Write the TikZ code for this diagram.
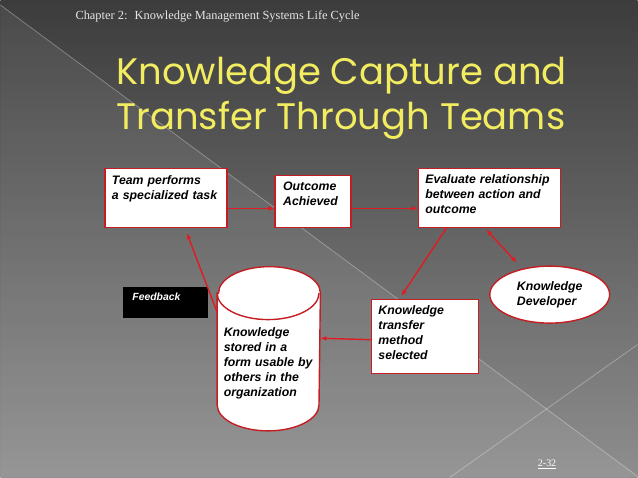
\documentclass[tikz,border=0pt]{standalone}
\usepackage{fontspec}
\setmainfont{Liberation Serif}
\newfontfamily\arialfont{Liberation Sans}
\newfontfamily\titlefont{Poppins}
\usetikzlibrary{shapes.geometric,arrows.meta,backgrounds}
\definecolor{boxred}{RGB}{196,30,36}
\definecolor{linkred}{RGB}{224,28,34}
\definecolor{titleyellow}{RGB}{242,236,96}
\definecolor{slidetop}{RGB}{60,60,60}
\definecolor{slidebottom}{RGB}{142,142,142}

\begin{document}
\begin{tikzpicture}[x=1pt,y=1pt,>={Latex[length=6pt,width=5pt]},
  task box/.style={rectangle,draw=boxred,line width=1.4pt,fill=white,inner xsep=7pt,inner ysep=0pt,anchor=north west,align=left,font=\arialfont\bfseries\itshape\fontsize{12.3}{15}\selectfont},
  dev node/.style={ellipse,draw=boxred,line width=1.4pt,fill=white,inner sep=0pt,minimum width=120pt,minimum height=57pt,align=left,font=\arialfont\bfseries\itshape\fontsize{12.3}{15}\selectfont},
  link/.style={draw=linkred,fill=linkred,line width=1.4pt,->}]

  % slide
  \begin{scope}[on background layer]
    \shade[top color=slidetop,bottom color=slidebottom] (0,0) rectangle (638,478);
    \fill[white,opacity=0.07] (0,473) -- (638,1) -- (638,0) -- (0,0) -- cycle;
    \draw[white,opacity=0.3,line width=0.8pt] (0,473) -- (638,1);
    \draw[white,opacity=0.3,line width=0.8pt] (638,133) -- (450,0);
  \end{scope}

  \node[anchor=base west,inner sep=0pt,font=\fontsize{12.4}{14}\selectfont,text=white!90!black] (header) at (75,458) {Chapter 2:~ Knowledge Management Systems Life Cycle};
  % base of a two-line node is its last line
  \node[anchor=base west,inner sep=0pt,align=left,font=\titlefont\fontsize{37}{45}\selectfont,text=titleyellow] (title) at (116,348) {Knowledge Capture and\\Transfer Through Teams};

  \node[task box,text width=108pt,text height=16pt,text depth=43pt] (team) at (104,310) {Team performs\\a specialized task};
  \node[task box,inner xsep=8pt,text width=60pt,text height=15pt,text depth=37pt] (outcome) at ([xshift=47pt,yshift=-7pt]team.north east) {Outcome\\Achieved};
  \node[task box,text width=128pt,text height=15pt,text depth=44pt] (evaluate) at ([xshift=66pt,yshift=7pt]outcome.north east) {Evaluate relationship\\between action and\\outcome};
  \node[task box,text width=93pt,text height=15pt,text depth=59pt] (transfer) at ([xshift=-47pt,yshift=-71pt]evaluate.south west) {Knowledge\\transfer\\method\\selected};
  \node[dev node] (developer) at (550,183) {Knowledge\\Developer};
  \node[task box,draw=none,fill=none,inner xsep=6pt,text width=90pt,text height=69pt,text depth=94pt] (store) at (217,211) {Knowledge\\stored in a\\form usable by\\others in the\\organization};
  \node[anchor=north west,fill=black,inner xsep=9pt,inner ysep=0pt,text width=67pt,text height=14pt,text depth=17pt,text=white,font=\arialfont\bfseries\itshape\fontsize{10.4}{12}\selectfont] (feedback) at (123,191) {Feedback};
  \node[anchor=base west,inner sep=0pt,font=\fontsize{10}{12}\selectfont,text=white] (pagenum) at (538,11) {\underline{2-32}};

  % cylinder round the store node
  \begin{scope}[on background layer]
    \draw[boxred,line width=1.4pt,fill=white] ([yshift=-26.5pt]store.north west) -- ([yshift=26pt]store.south west)
      arc[start angle=180,end angle=360,x radius=51pt,y radius=26pt] -- ([yshift=-26.5pt]store.north east)
      arc[start angle=0,end angle=180,x radius=51pt,y radius=26.5pt] -- cycle;
    \draw[boxred,line width=1.4pt] ([yshift=-26.5pt]store.north west) arc[start angle=180,end angle=360,x radius=51pt,y radius=26.5pt];
  \end{scope}

  \draw[link] ([yshift=-10.5pt]team.east) -- ([yshift=-7pt]outcome.west);
  \draw[link] ([yshift=-7pt]outcome.east) -- ([yshift=-10.5pt]evaluate.west);
  \draw[link] ([xshift=-43pt]evaluate.south) -- ([xshift=-23.5pt,yshift=3pt]transfer.north);
  \draw[link] ([yshift=36.5pt]store.west) -- ([xshift=21pt,yshift=-5pt]team.south);
  \draw[link] ([yshift=-3pt]transfer.west) -- ([yshift=10.5pt]store.east);
  \draw[link,<->] ([xshift=-3pt,yshift=-1.5pt]evaluate.south) -- ([shift={(-33pt,32pt)}]developer.center);
\end{tikzpicture}
\end{document}
